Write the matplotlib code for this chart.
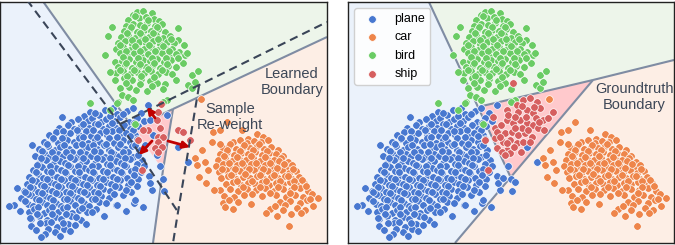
import numpy as np
import matplotlib.pyplot as plt
from matplotlib.patches import Polygon

plt.rcParams['font.family'] = ['Liberation Sans', 'DejaVu Sans']

# ---- data: 2D embedding of the four classes (pixel-like units, y grows downward) ----
classes = ['plane', 'car', 'bird', 'ship']

plane_pts = [
    (84,116),(90,112),(99,115),(105,110),(113,108),(117,114),(127,111),(133,108),(141,113),
    (71,122),(78,119),(88,121),(92,118),(101,122),(106,119),(115,121),(120,117),(129,122),(137,118),(144,121),
    (59,128),(68,125),(74,129),(81,126),(89,128),(95,124),(103,129),(109,126),(116,128),(124,125),(130,129),(138,126),
    (49,135),(56,132),(65,136),(70,133),(79,135),(86,131),(91,136),(100,133),(107,135),(112,131),(121,136),(126,133),(135,135),
    (44,142),(53,139),(58,143),(67,140),(74,142),(79,138),(88,143),(95,140),(100,142),(109,138),(114,143),(123,140),(130,142),(137,139),
    (39,149),(48,146),(55,150),(60,147),(69,149),(76,145),(83,150),(88,147),(97,149),(104,145),(109,150),(118,147),(125,149),(132,146),(139,150),
    (35,156),(44,153),(49,157),(58,154),(63,156),(72,152),(77,157),(86,154),(91,156),(100,152),(105,157),(114,154),(119,156),(128,152),(133,157),(142,160),
    (39,163),(46,160),(53,164),(60,161),(65,163),(74,159),(81,164),(86,161),(95,163),(102,159),(107,164),(116,161),(121,163),(130,159),(137,164),(144,166),
    (33,170),(42,167),(47,171),(56,168),(61,170),(70,166),(75,171),(84,168),(89,170),(98,166),(103,171),(112,168),(117,170),(126,166),(131,171),(141,172),(149,176),
    (29,177),(38,174),(43,178),(52,175),(57,177),(66,173),(71,178),(80,175),(85,177),(94,173),(99,178),(108,175),(113,177),(122,173),(127,178),(138,179),
    (27,184),(36,181),(41,185),(50,182),(55,184),(64,180),(69,185),(78,182),(83,184),(92,180),(97,185),(106,182),(111,184),(120,180),(128,185),(137,186),
    (24,191),(33,188),(38,192),(47,189),(52,191),(61,187),(66,192),(75,189),(80,191),(89,187),(94,192),(103,189),(110,191),(119,187),(131,192),
    (21,198),(31,195),(36,199),(45,196),(50,198),(59,194),(64,199),(73,196),(78,198),(87,194),(92,199),(101,196),(109,198),(123,195),
    (14,205),(28,204),(33,206),(42,202),(47,205),(56,203),(61,206),(70,201),(75,205),(84,203),(89,206),(99,202),(116,205),(134,203),(143,207),
    (29,212),(34,209),(44,213),(49,210),(58,212),(63,208),(72,213),(79,210),(87,212),(96,209),
    (31,219),(39,216),(47,220),(55,217),(61,219),(71,216),(81,220),
    (31,226),(46,223),(57,227),(68,224),
    (55,232),(64,229),(70,231),
    # second, denser layer in the core
    (95,113),(110,116),(123,114),(83,124),(98,124),(112,123),(134,123),(63,131),(77,130),(93,130),
    (106,131),(119,130),(133,130),(53,138),(62,138),(83,137),(97,137),(117,137),(130,136),(47,144),
    (64,145),(82,144),(93,145),(106,144),(120,144),(135,145),(42,151),(52,152),(66,152),(80,152),
    (94,151),(111,152),(123,152),(138,155),(41,158),(55,158),(70,157),(83,158),(97,158),(110,158),
    (125,158),(37,165),(50,166),(68,165),(78,166),(92,166),(110,165),(124,165),(135,169),(36,172),
    (51,172),(65,172),(79,172),(93,172),(107,172),(121,172),(134,175),(32,180),(47,179),(61,179),
    (75,180),(90,179),(103,179),(117,179),(131,182),(30,187),(44,186),(58,186),(72,186),(87,185),
    (100,186),(115,186),(28,194),(42,193),(56,193),(70,193),(84,192),(98,193),(114,194),(126,190),
    (25,201),(39,200),(53,200),(67,199),(81,200),(95,199),(106,203),(38,207),(52,207),(67,207),
    (82,208),(92,212),(37,214),(52,214),(66,214),(76,217),(40,223),(51,222),(63,223),(75,225),
    (36,230),(48,229),(60,236),(45,234),(25,192),(30,218),(117,205),(135,200),
    # loose outliers
    (9,206),(20,211),(41,237),(86,224),(104,216),(126,211),(152,190),(17,188),(32,145),(62,117),
    (157,155),(163,179),(160,166),(150,183),(164,191),
]

car_pts = [
    (257,134),(263,137),(248,139),
    (233,142),(240,140),(247,143),(254,141),(261,142),(268,140),
    (223,148),(229,146),(236,149),(243,147),(250,148),(257,146),(264,149),(271,147),(278,150),
    (220,154),(227,152),(234,155),(241,153),(248,154),(255,152),(262,155),(269,153),(276,154),(283,156),
    (218,160),(225,158),(232,161),(239,159),(246,160),(253,158),(260,161),(267,159),(274,160),(281,158),(288,162),
    (216,166),(223,164),(230,167),(237,165),(244,166),(251,164),(258,167),(265,165),(272,166),(279,164),(286,167),(292,165),
    (219,172),(226,170),(233,173),(240,171),(247,172),(254,170),(261,173),(268,171),(275,172),(282,170),(289,173),(296,171),
    (221,178),(228,176),(236,179),(243,177),(250,178),(257,176),(264,179),(271,177),(278,178),(285,176),(292,179),(299,177),
    (226,184),(233,182),(241,185),(248,183),(255,184),(262,182),(269,185),(276,183),(283,184),(290,182),(297,185),(304,183),
    (220,190),(230,189),(238,191),(247,189),(256,190),(265,188),(274,191),(283,189),(291,190),(300,188),(308,191),
    (224,196),(234,197),(244,195),(262,196),(276,195),(286,197),(295,195),(303,197),(312,194),
    (223,203),(238,202),(280,202),(290,201),(300,203),(307,200),
    (270,209),(275,206),(297,208),(305,210),(291,214),
    (230,144),(244,145),(259,144),(227,150),(240,151),(253,150),(267,151),(224,156),(237,157),(251,156),
    (265,157),(279,161),(229,163),(242,163),(256,163),(270,163),(284,164),(222,169),(235,169),(249,169),
    (263,169),(277,168),(293,169),(231,175),(245,174),(260,175),(274,175),(288,176),(302,180),(237,181),
    (252,181),(266,181),(280,181),(294,181),(243,187),(260,187),(278,187),(294,187),(306,186),(252,194),
    (270,193),(290,193),(310,199),(229,200),(285,205),(301,213),(283,210),
    (195,158),(208,170),(214,190),(225,207),(233,209),(318,198),(313,206),(266,213),(277,216),(251,204),
    (289,226),(197,165),(199,177),(205,162),(212,142),(220,144),(202,150),(206,183),
    (201,99),(227,122),(213,132),(220,130),(242,130),
]

bird_pts = [
    (133,15),(137,12),(143,11),(152,13),
    (128,20),(139,18),(146,17),(154,19),(159,21),
    (112,27),(126,26),(133,24),(140,25),(147,23),(155,26),(162,24),
    (124,31),(130,29),(137,32),(144,30),(151,31),(158,29),(165,32),
    (121,37),(128,35),(135,38),(142,36),(149,37),(156,35),(163,38),(170,36),(178,40),
    (118,43),(125,41),(132,44),(139,42),(146,43),(153,41),(160,44),(167,42),(174,43),
    (116,49),(123,47),(130,50),(137,48),(144,49),(151,47),(158,50),(165,48),(172,49),(179,52),
    (120,53),(127,55),(134,53),(141,56),(148,54),(155,55),(162,53),(169,56),(176,54),(185,55),
    (115,62),(122,61),(129,59),(136,62),(143,60),(150,61),(157,59),(164,62),(171,60),(183,63),
    (118,67),(125,65),(132,68),(139,66),(146,67),(153,65),(160,68),(168,66),(176,67),
    (116,73),(123,71),(130,74),(137,72),(144,73),(151,71),(158,74),(166,72),(192,75),(198,71),
    (115,80),(124,78),(132,80),(141,79),(150,81),(157,83),(165,84),(188,85),(192,88),
    (120,88),(129,87),(136,90),(147,91),
    (122,95),(128,97),(118,102),(133,100),
    (135,16),(148,20),(131,27),(144,27),(157,27),(127,33),(140,33),(153,33),(132,40),(145,39),
    (158,39),(171,39),(120,45),(135,46),(149,45),(163,46),(126,51),(140,51),(155,51),(169,51),
    (123,57),(138,58),(152,58),(166,58),(178,58),(126,63),(140,64),(154,63),(167,64),(120,70),
    (134,70),(148,69),(162,70),(127,76),(141,76),(154,77),(172,74),(126,83),(140,84),(152,86),
    (178,28),(187,53),(163,89),(167,100),(108,36),(110,72),(184,45),(195,82),(105,55),(176,80),
    (90,103),(110,110),(117,103),(135,124),(163,102),
]

# ship samples as labelled by the groundtruth
ship_gt = [
    (165,83),(175,100),(182,98),(189,102),(169,105),(159,110),(170,112),(179,110),(185,113),
    (195,120),(200,118),(159,120),(165,123),(172,120),(179,123),(185,125),(190,128),
    (150,132),(157,133),(164,132),(170,135),(177,133),(184,137),(147,138),(155,142),
    (162,140),(169,143),(175,142),(182,142),(149,148),(159,150),(154,152),(162,153),
    (137,140),(140,170),(147,128),(145,117),(149,132),(192,108),(205,112),(174,128),
    (167,128),(153,125),(188,118),(178,117),(196,130),(159,143),(157,155),
    (160,115),(174,106),(186,107),(167,117),(191,122),(152,137),(166,147),(180,130),(173,152),
]
# ship samples seen by the learned boundary
ship_learned = [
    (161,104),(158,112),(157,120),(160,128),(148,130),(158,137),(163,137),(158,142),
    (155,148),(162,147),(138,140),(143,130),(178,130),(183,132),(190,140),(142,170),(158,152),
]
plane_extra_learned = [(148,105),(167,115),(178,147),(188,162),(150,120),(153,135),(145,145)]
plane_extra_gt = [(149,105),(179,147),(189,162),(155,178),(167,182)]

# ---- style ----
CLASS_COLORS = {'plane': '#4878D0', 'car': '#EE854A', 'bird': '#6ACC64', 'ship': '#D65F5F'}
REGION_BLUE = '#EBF2FB'
REGION_GREEN = '#EDF5EA'
REGION_ORANGE = '#FDEEE5'
REGION_PINK = '#FFC9CC'
SOLID = '#7F8CA3'
DASHED = '#3A4558'
TEXT = '#3D4757'
ARROW = '#C00000'


def draw_regions(ax, blue, green, orange, pink, lines):
    for verts, col in [(blue, REGION_BLUE), (green, REGION_GREEN), (orange, REGION_ORANGE), (pink, REGION_PINK)]:
        ax.add_patch(Polygon(verts, closed=True, facecolor=col, edgecolor='none', zorder=0))
    for seg in lines:
        seg = np.array(seg)
        ax.plot(seg[:, 0], seg[:, 1], color=SOLID, lw=1.5, zorder=1, solid_capstyle='butt')


def scatter_classes(ax, groups):
    for name, pts in groups:
        pts = np.array(pts)
        ax.scatter(pts[:, 0], pts[:, 1], s=30, color=CLASS_COLORS[name],
                   edgecolors='white', linewidths=0.5, zorder=2, label=name)


def setup_axes(ax, w):
    ax.set_xlim(0, w)
    ax.set_ylim(243, 2)
    ax.set_xticks([])
    ax.set_yticks([])
    for sp in ax.spines.values():
        sp.set_color('#222222')
        sp.set_linewidth(1.0)


fig = plt.figure(figsize=(6.75, 2.45), dpi=100)
ax1 = fig.add_axes([0 / 675, 2 / 245, 327 / 675, 241 / 245])
ax2 = fig.add_axes([348 / 675, 2 / 245, 326 / 675, 241 / 245])

# ---- left panel: learned boundary ----
L1, L2, L3 = (133, 128), (173, 109), (163, 170)
draw_regions(
    ax1,
    blue=[(0, 0), (42, 0), L1, L3, (153, 243), (0, 243)],
    green=[(42, 0), (327, 0), (327, 37), L2, L1],
    orange=[L2, (327, 37), (327, 243), (153, 243), L3],
    pink=[L1, L2, L3],
    lines=[[(42, 0), L1], [L1, L2], [L2, (327, 37)], [L2, L3], [L3, (153, 243)]],
)
scatter_classes(ax1, [('plane', plane_pts + plane_extra_learned), ('car', car_pts),
                      ('bird', bird_pts), ('ship', ship_learned)])

# dashed learned boundary
J, B, C = (120, 124), (199, 86), (178, 212)
for seg in [[(27, 0), J], [J, (327, 22)], [J, C], [B, C, (173, 243)]]:
    seg = np.array(seg)
    ax1.plot(seg[:, 0], seg[:, 1], color=DASHED, lw=1.5, ls=(0, (4, 2.5)), zorder=3)

# re-weight arrows
for tail, head in [((155, 118), (147, 107)), ((152, 141), (139, 155)), ((168, 141), (190, 147))]:
    ax1.annotate('', xy=head, xytext=tail,
                 arrowprops=dict(arrowstyle='-|>', color=ARROW, lw=2, mutation_scale=10,
                                 shrinkA=0, shrinkB=0), zorder=4)

ax1.text(292, 82, 'Learned\nBoundary', ha='center', va='center', fontsize=10.5,
         color=TEXT, linespacing=1.25, zorder=5)
ax1.text(230, 117, 'Sample\nRe-weight', ha='center', va='center', fontsize=10.5,
         color=TEXT, linespacing=1.25, zorder=5)
setup_axes(ax1, 327)

# ---- right panel: groundtruth boundary ----
Q1, Q2, Q3 = (130, 107), (245, 80), (163, 178)
draw_regions(
    ax2,
    blue=[(0, 0), (80, 0), Q1, Q3, (107, 243), (0, 243)],
    green=[(80, 0), (326, 0), (326, 60), Q2, Q1],
    orange=[Q2, (326, 60), (326, 243), (107, 243), Q3],
    pink=[Q1, Q2, Q3],
    lines=[[(80, 0), Q1], [Q1, Q2], [Q2, (326, 60)], [Q1, Q3], [Q2, (107, 243)]],
)
scatter_classes(ax2, [('plane', plane_pts + plane_extra_gt), ('car', car_pts),
                      ('bird', bird_pts), ('ship', ship_gt)])
ax2.text(286, 97, 'Groundtruth\nBoundary', ha='center', va='center', fontsize=10.5,
         color=TEXT, linespacing=1.25, zorder=5)
leg = ax2.legend(loc='upper left', fontsize=9, frameon=True, framealpha=0.9,
                 edgecolor='#CCCCCC', facecolor='white', scatterpoints=1, markerscale=1.0)
leg.set_zorder(6)
setup_axes(ax2, 326)

fig.savefig('out.png', dpi=100)
